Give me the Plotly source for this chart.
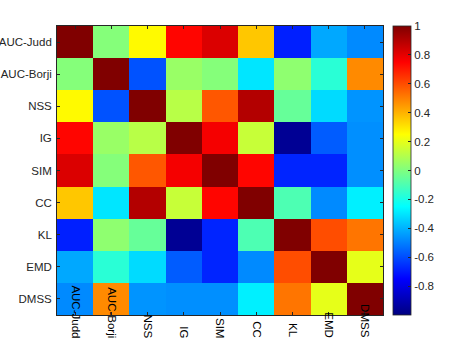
import plotly.graph_objects as go

labels = ["AUC-Judd", "AUC-Borji", "NSS", "IG", "SIM", "CC", "KL", "EMD", "DMSS"]

row_auc_judd  = [1.00, 0.01, 0.26, 0.74, 0.82, 0.36, -0.69, -0.42, -0.48]
row_auc_borji = [0.01, 1.00, -0.59, 0.05, 0.01, -0.30, 0.03, -0.17, 0.48]
row_nss       = [0.26, -0.59, 1.00, 0.11, 0.58, 0.90, -0.05, -0.32, -0.46]
row_ig        = [0.74, 0.05, 0.11, 1.00, 0.77, 0.14, -0.96, -0.57, -0.47]
row_sim       = [0.82, 0.01, 0.58, 0.77, 1.00, 0.74, -0.68, -0.68, -0.47]
row_cc        = [0.36, -0.30, 0.90, 0.14, 0.74, 1.00, -0.10, -0.48, -0.28]
row_kl        = [-0.69, 0.03, -0.05, -0.96, -0.68, -0.10, 1.00, 0.60, 0.52]
row_emd       = [-0.42, -0.17, -0.32, -0.57, -0.68, -0.48, 0.60, 1.00, 0.20]
row_dmss      = [-0.48, 0.48, -0.46, -0.47, -0.47, -0.28, 0.52, 0.20, 1.00]

cbar_tickvals = [-0.8, -0.6, -0.4, -0.2, 0, 0.2, 0.4, 0.6, 0.8, 1]
cbar_ticktext = ["-0.8", "-0.6", "-0.4", "-0.2", "0", "0.2", "0.4", "0.6", "0.8", "1"]

z = [row_auc_judd, row_auc_borji, row_nss, row_ig, row_sim, row_cc, row_kl, row_emd, row_dmss]

jet = [
    [0.0, "rgb(0,0,128)"],
    [0.125, "rgb(0,0,255)"],
    [0.375, "rgb(0,255,255)"],
    [0.625, "rgb(255,255,0)"],
    [0.875, "rgb(255,0,0)"],
    [1.0, "rgb(128,0,0)"],
]

FONT = "Liberation Sans, Arial, Helvetica, sans-serif"
TXT = "#262626"

fig = go.Figure(
    go.Heatmap(
        z=z,
        x=labels,
        y=labels,
        colorscale=jet,
        zmin=-1,
        zmax=1,
        xgap=0,
        ygap=0,
        hoverinfo="skip",
        colorbar=dict(
            x=1.0307,
            xanchor="left",
            y=0.5,
            yanchor="middle",
            len=1.0,
            lenmode="fraction",
            thickness=18,
            thicknessmode="pixels",
            outlinewidth=0.8,
            outlinecolor=TXT,
            tickvals=cbar_tickvals,
            ticktext=cbar_ticktext,
            ticks="inside",
            ticklen=3,
            tickcolor=TXT,
            tickfont=dict(family=FONT, size=11.5, color=TXT),
            xpad=0,
            ypad=0,
        ),
    )
)

annotations = []
for lab in labels:
    annotations.append(
        dict(
            x=lab,
            xref="x",
            y=-0.0865,
            yref="paper",
            text=lab,
            textangle=90,
            showarrow=False,
            xanchor="center",
            yanchor="bottom",
            font=dict(family=FONT, size=11.5, color="#000000"),
        )
    )

fig.update_layout(
    width=474,
    height=355,
    margin=dict(l=57, r=91, t=26, b=40),
    paper_bgcolor="white",
    plot_bgcolor="white",
    annotations=annotations,
    xaxis=dict(
        showticklabels=False,
        ticks="inside",
        ticklen=3,
        tickcolor=TXT,
        showline=True,
        linecolor=TXT,
        linewidth=0.8,
        mirror="ticks",
        showgrid=False,
        zeroline=False,
        automargin=False,
    ),
    yaxis=dict(
        autorange="reversed",
        ticks="inside",
        ticklen=3,
        tickcolor=TXT,
        showline=True,
        linecolor=TXT,
        linewidth=0.8,
        mirror="ticks",
        showgrid=False,
        zeroline=False,
        automargin=False,
        tickfont=dict(family=FONT, size=11.5, color=TXT),
        ticklabelstandoff=2,
    ),
)

fig.write_html(
    "out.html",
    config={"displayModeBar": False},
    post_script="document.body.style.margin='0';",
)
